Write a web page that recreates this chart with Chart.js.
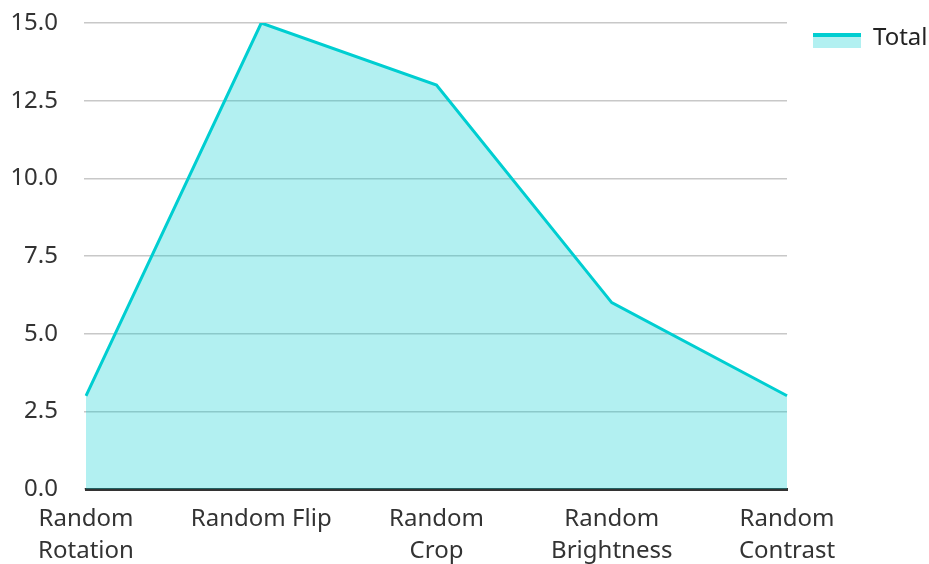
<!DOCTYPE html>
<html>
<head>
<meta charset="utf-8">
<script src="https://cdn.jsdelivr.net/npm/chart.js@4.4.1/dist/chart.umd.min.js"></script>
<style>
  html, body { margin: 0; padding: 0; background: #fff; }
  #wrap { width: 929px; height: 564px; }
</style>
</head>
<body>
<div id="wrap"><canvas id="myChart" width="929" height="564"></canvas></div>
<script>
// data
const categories = [['Random', 'Rotation'], 'Random Flip', ['Random', 'Crop'], ['Random', 'Brightness'], ['Random', 'Contrast']];
const totals = [3, 15, 13, 6, 3];
const seriesName = 'Total';

const lineColor = '#00CED1';
const fillColor = 'rgba(0, 206, 209, 0.3)';

// legend marker: fill box with a line on top (canvas taller so box sits a bit lower)
var marker = document.createElement('canvas');
marker.width = 48;
marker.height = 30;
var mctx = marker.getContext('2d');
mctx.fillStyle = fillColor;
mctx.fillRect(0, 10, 48, 15);
mctx.fillStyle = lineColor;
mctx.fillRect(0, 10, 48, 4);

Chart.defaults.font.family = '"Noto Sans", "Open Sans", sans-serif';
Chart.defaults.font.size = 24;
Chart.defaults.color = '#333';

var ctx = document.getElementById('myChart').getContext('2d');
var myChart = new Chart(ctx, {
    type: 'line',
    data: {
        labels: categories,
        datasets: [{
            label: seriesName,
            data: totals,
            borderColor: lineColor,
            backgroundColor: fillColor,
            borderWidth: 3,
            tension: 0,
            pointRadius: 0,
            fill: 'origin'
        }]
    },
    options: {
        responsive: false,
        animation: false,
        layout: { padding: { left: 10, right: 0, top: 0, bottom: 0 } },
        plugins: {
            legend: {
                position: 'right',
                align: 'start',
                maxWidth: 142,
                labels: {
                    usePointStyle: true,
                    pointStyle: marker,
                    pointStyleWidth: 48,
                    color: '#222',
                    padding: 26
                }
            },
            tooltip: { enabled: false }
        },
        scales: {
            x: {
                offset: false,
                grid: { display: false, drawTicks: false },
                border: { color: '#333', width: 3 },
                ticks: { maxRotation: 0, autoSkip: false, padding: 14, font: { lineHeight: 1.333 } },
                afterFit: function (scale) {
                    scale.height = 75;
                    scale.paddingRight = 142;
                }
            },
            y: {
                min: 0,
                max: 15,
                border: { display: false },
                grid: { color: '#c8c8c8', lineWidth: 1.5, tickLength: 2 },
                ticks: {
                    stepSize: 2.5,
                    padding: 26,
                    callback: function (v) { return v.toFixed(1); }
                },
                afterFit: function (scale) {
                    scale.width = 76;
                    scale.paddingTop = 23;
                }
            }
        }
    }
});
</script>
</body>
</html>
